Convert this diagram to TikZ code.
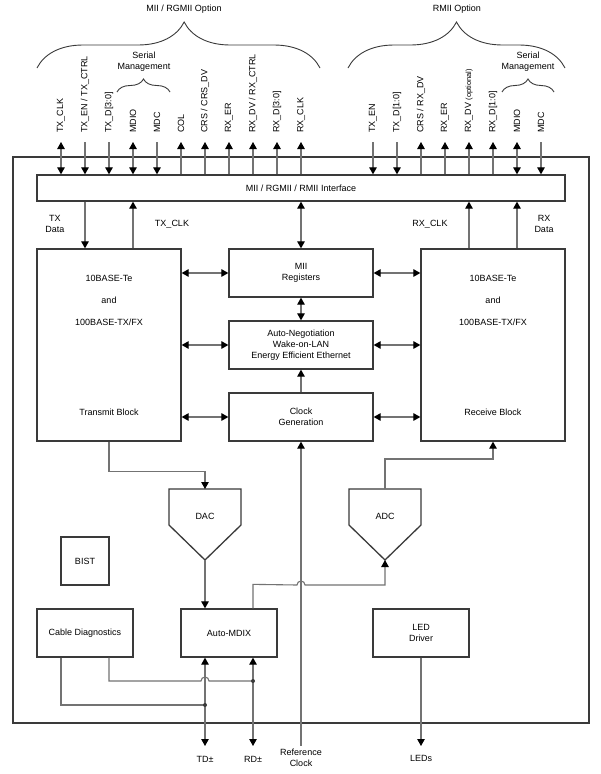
\documentclass[tikz,border=0pt]{standalone}
\usepackage{fontspec}
\setmainfont{Liberation Sans}
\usetikzlibrary{arrows.meta,positioning,decorations.pathreplacing,calc}
\definecolor{boxline}{HTML}{3A3A3A}
\definecolor{wire}{HTML}{737373}

\begin{document}
\begin{tikzpicture}[x=1pt, y=-1pt,
    font=\fontsize{9}{11}\selectfont,
    >={Triangle[length=7pt,width=7.5pt,color=black]},
    blk/.style={draw=boxline, line width=1.3pt, fill=white, inner sep=0pt, align=center},
    sig/.style={draw=wire, line width=1.1pt},
    sigin/.style={->}, sigout/.style={<-}, sigio/.style={<->},
    pinlbl/.style={rotate=90, anchor=west, inner sep=0pt},
    grp/.style={draw=boxline, line width=0.9pt, decorate, decoration={brace, amplitude=#1}},
    ]
\useasboundingbox (0,0) rectangle (601,774);

% option braces
\draw[grp=46pt, decoration={aspect=0.52}] (37,68) -- (320,68);
\draw[grp=46pt] (348,68) -- (565,68);
\node (miiopt) at (184,9) {MII / RGMII Option};
\node (rmiiopt) at (457,9) {RMII Option};
\draw[grp=13pt] (117,92) -- (170,92);
\draw[grp=13pt] (502,92) -- (554,92);
\node[align=center] (mgmt1) at (144,62) {Serial\\Management};
\node[align=center] (mgmt2) at (528,62) {Serial\\Management};

% chip outline
\node[blk, minimum width=576, minimum height=566] (chip) at (301,440) {};

% interface
\node[blk, minimum width=528, minimum height=26] (iface) at (301,188) {MII / RGMII / RMII Interface};

% pins
\foreach \px/\ptext/\pdir in {61/TX\_CLK/sigio, 85/{TX\_EN / TX\_CTRL}/sigin,
    109/TX\_D[3:0]/sigin, 133/MDIO/sigio, 157/MDC/sigin, 181/COL/sigout,
    205/{CRS / CRS\_DV}/sigout, 229/RX\_ER/sigout, 253/{RX\_DV / RX\_CTRL}/sigout,
    277/RX\_D[3:0]/sigout, 301/RX\_CLK/sigout,
    373/TX\_EN/sigin, 397/TX\_D[1:0]/sigin, 421/{CRS / RX\_DV}/sigout,
    445/RX\_ER/sigout, 469/{RX\_DV {\fontsize{7.5}{8}\selectfont(optional)}}/sigout,
    493/RX\_D[1:0]/sigout, 517/MDIO/sigio, 541/MDC/sigin}
{
  \node[pinlbl] (lbl\px) at (\px,133) {\ptext};
  \coordinate (pin\px) at (\px,142);
  \draw[sig,\pdir] (pin\px) -- (pin\px |- iface.north);
}

% main blocks
\node[blk, minimum width=144, minimum height=192] (tx) at (109,345) {};
\node[blk, minimum width=144, minimum height=192] (rx) at (493,345) {};
\node[blk, minimum width=144, minimum height=48] (reg) at (301,273) {MII\\Registers};
\node[blk, minimum width=144, minimum height=48] (aneg) at (301,345) {Auto-Negotiation\\Wake-on-LAN\\Energy Efficient Ethernet};
\node[blk, minimum width=144, minimum height=48] (clk) at (301,417) {Clock\\Generation};

\node[align=center] (txmode) at (109,300) {10BASE-Te\\[11pt]and\\[11pt]100BASE-TX/FX};
\node (txname) at (109,412) {Transmit Block};
\node[align=center] (rxmode) at (493,300) {10BASE-Te\\[11pt]and\\[11pt]100BASE-TX/FX};
\node (rxname) at (493,412) {Receive Block};

\foreach \blkname in {reg,aneg,clk}
{
  \draw[sig,<->] (tx.east |- \blkname) -- (\blkname.west);
  \draw[sig,<->] (\blkname.east) -- (rx.west |- \blkname);
}

% data paths to the interface
\coordinate (txdata) at ([xshift=-24]tx.north);
\coordinate (txclk) at ([xshift=24]tx.north);
\coordinate (rxclk) at ([xshift=-24]rx.north);
\coordinate (rxdata) at ([xshift=24]rx.north);
\draw[sig,->] (txdata |- iface.south) -- (txdata);
\draw[sig,->] (txclk) -- (txclk |- iface.south);
\draw[sig,->] (rxclk) -- (rxclk |- iface.south);
\draw[sig,->] (rxdata) -- (rxdata |- iface.south);
\node[align=center] (txdatalbl) at (55,224) {TX\\Data};
\node (txclklbl) at (172,224) {TX\_CLK};
\node (rxclklbl) at (430,224) {RX\_CLK};
\node[align=center] (rxdatalbl) at (544,224) {RX\\Data};

\draw[sig,<->] (reg.north |- iface.south) -- (reg.north);
\draw[sig,<->] (reg.south) -- (aneg.north);
\draw[sig,->] (clk.north) -- (aneg.south);

% converters
\foreach \cx/\cname/\ctext in {205/dac/DAC, 385/adc/ADC}
{
  \coordinate (\cname-t) at (\cx,489);
  \coordinate (\cname-b) at (\cx,560);
  \draw[blk] (\cname-t) ++(-36,0) -- ++(72,0) -- ++(0,36) -- (\cname-b) -- ++(-36,-35) -- cycle;
  \node (\cname) at (\cx,516) {\ctext};
}

% lower blocks
\node[blk, minimum width=48, minimum height=48] (bist) at (85,561) {BIST};
\node[blk, minimum width=96, minimum height=48] (cable) at (85,633) {Cable Diagnostics};
\node[blk, minimum width=96, minimum height=48] (mdix) at (229,633) {Auto-MDIX};
\node[blk, minimum width=96, minimum height=48] (led) at (421,633) {LED\\Driver};

\draw[sig,->] (tx.south) -- ++(0,30) -| (dac-t);
\draw[sig,->] (dac-b) -- (dac-b |- mdix.north);
\draw[sig,->] (adc-t) -- ++(0,-30) -| (rx.south);
\coordinate (mdixr) at ([xshift=24]mdix.north);
\draw[sig,->] (mdixr) -- ++(0,-24) -- (297,585) arc (180:360:4) -| (adc-b);

% external pins
\coordinate (refclk) at (301,746);
\coordinate (td) at (205,746);
\coordinate (rd) at (253,746);
\coordinate (leds) at (421,746);
\draw[sig,->] (refclk) -- (clk.south);
\draw[sig,<->] (td) -- (td |- mdix.south);
\draw[sig,<->] (rd) -- (rd |- mdix.south);
\draw[sig,->] (led.south) -- (leds);
\draw[sig] ([xshift=24]cable.south) |- (201,681) arc (180:360:4) -- (rd |- 0,681);
\draw[sig] ([xshift=-24]cable.south) |- (td |- 0,705);
\fill[boxline] (rd |- 0,681) circle (2pt);
\fill[boxline] (td |- 0,705) circle (2pt);

\node (tdlbl) at (205,759) {TD±};
\node (rdlbl) at (253,759) {RD±};
\node[align=center] (refclklbl) at (301,758) {Reference\\Clock};
\node (ledslbl) at (421,758) {LEDs};
\end{tikzpicture}
\end{document}
